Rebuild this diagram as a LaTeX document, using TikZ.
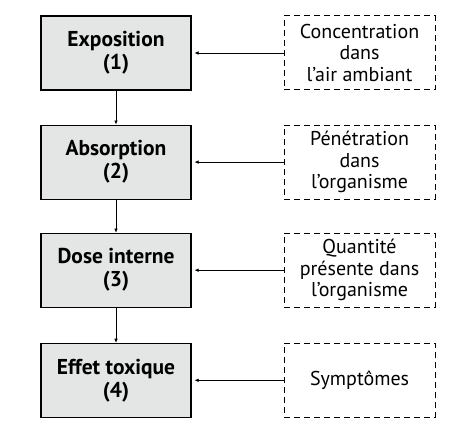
\documentclass[tikz,border=0pt]{standalone}
\usepackage{fontspec}
\setmainfont{PT Sans}
\usetikzlibrary{arrows.meta,positioning}
\definecolor{boxgray}{HTML}{E4E6E6}

\begin{document}
\begin{tikzpicture}[x=1pt,y=1pt,semithick,
  >={Latex[length=4pt,width=3.5pt]},
  stage/.style={draw,fill=boxgray,line width=1.1pt,minimum width=150pt,minimum height=74pt,
    inner sep=1pt,align=center,font=\fontsize{21.5}{23}\selectfont\bfseries},
  factor/.style={draw,dashed,dash pattern=on 6pt off 4pt,line width=1pt,minimum width=151pt,minimum height=74pt,
    inner sep=1pt,align=center,font=\fontsize{20}{21.5}\selectfont}]
  \useasboundingbox (0,0) rectangle (474,-430);
  \node[stage] (expo) at (116,-53) {Exposition\\(1)};
  \node[stage] (abso) [below=34pt of expo] {Absorption\\(2)};
  \node[stage] (dose) [below=33pt of abso] {Dose interne\\(3)};
  \node[stage] (effet) [below=35pt of dose] {Effet toxique\\(4)};
  \node[factor] (conc) [right=92pt of expo] {Concentration\\dans\\l'air ambiant};
  \node[factor] (pene) [right=92pt of abso] {Pénétration\\dans\\l'organisme};
  \node[factor] (quant) [right=92pt of dose] {Quantité\\présente dans\\l'organisme};
  \node[factor] (sympt) [right=92pt of effet] {Symptômes};
%
  \draw[->] (expo) -- (abso);
  \draw[->] (abso) -- (dose);
  \draw[->] (dose) -- (effet);
  \draw[->,shorten >=3pt] (conc) -- (expo);
  \draw[->,shorten >=3pt] (pene) -- (abso);
  \draw[->,shorten >=3pt] (quant) -- (dose);
  \draw[->,shorten >=3pt] (sympt) -- (effet);
\end{tikzpicture}
\end{document}
